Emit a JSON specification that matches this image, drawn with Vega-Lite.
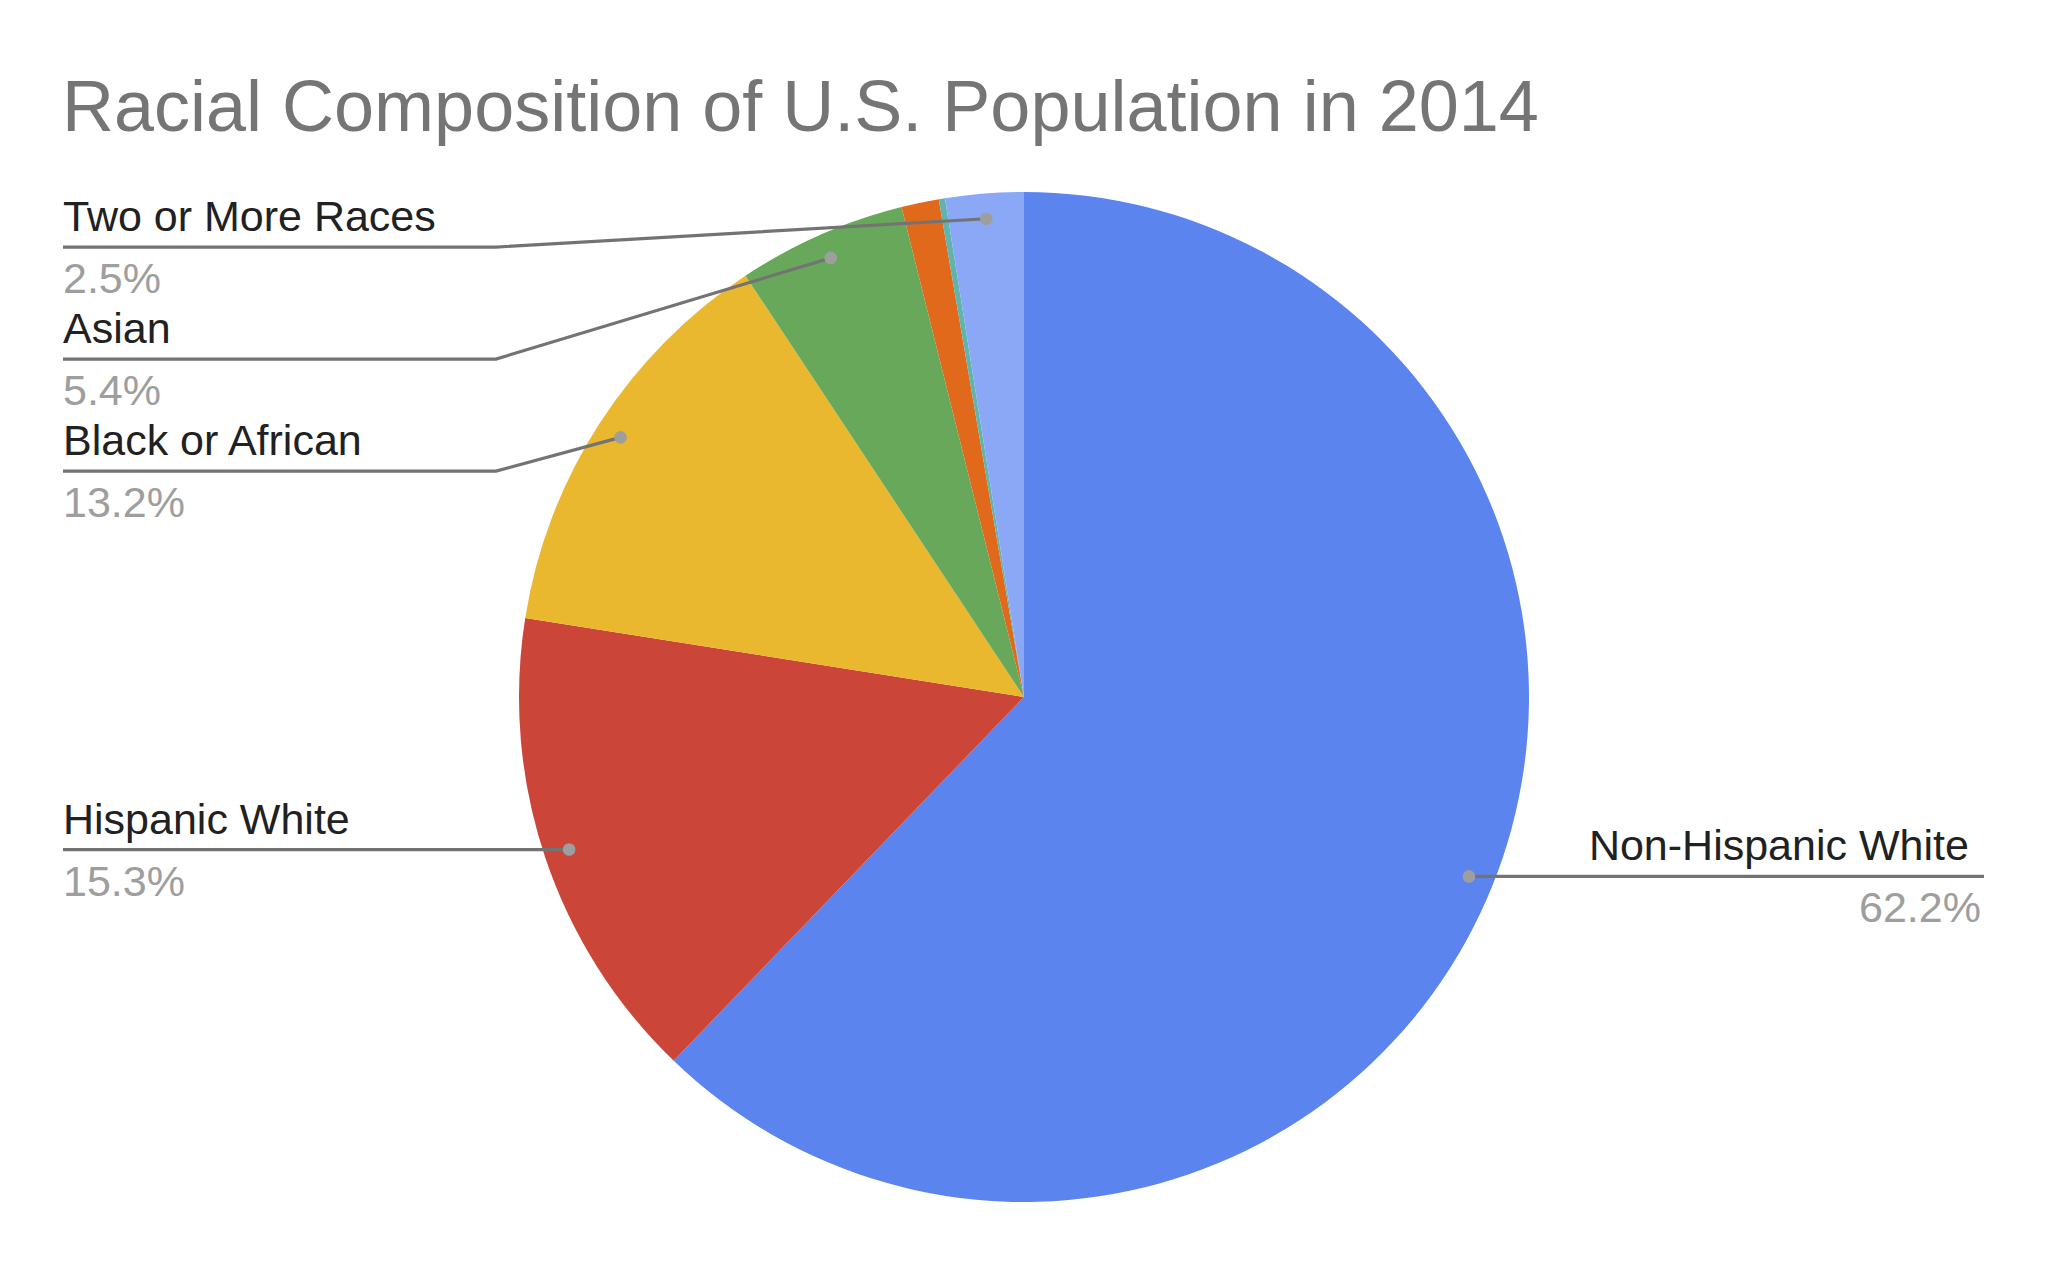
{
  "$schema": "https://vega.github.io/schema/vega-lite/v6.json",
  "autosize": {"type": "none"},
  "width": 1900,
  "height": 1100,
  "padding": {"left": 74, "right": 74, "top": 147, "bottom": 19},
  "background": "white",
  "config": {"view": {"stroke": null}, "font": "Liberation Sans"},
  "title": {
    "text": "Racial Composition of U.S. Population in 2014",
    "anchor": "start",
    "frame": "group",
    "fontSize": 72,
    "fontWeight": "normal",
    "color": "#757575",
    "font": "Liberation Sans",
    "baseline": "alphabetic",
    "offset": 15,
    "dx": -12,
    "dy": 71
  },
  "data": {
    "values": [
      {"group": "Non-Hispanic White", "value": 62.2, "order": 1},
      {"group": "Hispanic White", "value": 15.3, "order": 2},
      {"group": "Black or African", "value": 13.2, "order": 3},
      {"group": "Asian", "value": 5.4, "order": 4},
      {"group": "American Indian and Alaska Native", "value": 1.2, "order": 5},
      {"group": "Native Hawaiian and Other Pacific Islander", "value": 0.2, "order": 6},
      {"group": "Two or More Races", "value": 2.5, "order": 7}
    ]
  },
  "transform": [
    {"window": [{"op": "sum", "field": "value", "as": "cum"}], "sort": [{"field": "order"}], "frame": [null, 0]},
    {"joinaggregate": [{"op": "sum", "field": "value", "as": "total"}]},
    {"calculate": "2*PI*(datum.cum - datum.value/2)/datum.total", "as": "mid"},
    {"calculate": "0.95*sin(datum.mid)", "as": "dx"},
    {"calculate": "0.95*cos(datum.mid)", "as": "dy"},
    {"calculate": "datum.dx < 0 ? 'left' : 'right'", "as": "side"},
    {"calculate": "format(datum.value, '.1f') + '%'", "as": "pct"}
  ],
  "layer": [
    {
      "mark": {"type": "arc", "outerRadius": 505},
      "encoding": {
        "theta": {"field": "value", "type": "quantitative", "stack": true},
        "order": {"field": "order", "type": "quantitative"},
        "color": {
          "field": "group",
          "type": "nominal",
          "legend": null,
          "scale": {
            "domain": ["Non-Hispanic White", "Hispanic White", "Black or African", "Asian", "American Indian and Alaska Native", "Native Hawaiian and Other Pacific Islander", "Two or More Races"],
            "range": ["#5b84ef", "#cb4639", "#e9b82f", "#67a85a", "#e0691c", "#5fb5ae", "#8aa8f5"]
          }
        }
      }
    },
    {
      "transform": [
        {"filter": "datum.value >= 2"},
        {"window": [{"op": "row_number", "as": "rank"}], "groupby": ["side"], "sort": [{"field": "dy", "order": "descending"}]},
        {"calculate": "min(datum.dy, 0.891) + (datum.rank-1)*0.2218", "as": "e"},
        {"window": [{"op": "min", "field": "e", "as": "emin"}], "groupby": ["side"], "sort": [{"field": "dy", "order": "descending"}], "frame": [null, 0]},
        {"calculate": "datum.emin - (datum.rank-1)*0.2218", "as": "ly"}
      ],
      "layer": [
        {
          "transform": [
            {"calculate": "datum.side == 'left' ? -1.0455 : 1.0455", "as": "ex"},
            {"calculate": "datum.side == 'left' ? -1.903 : 1.901", "as": "endx"},
            {"fold": ["dx", "ex", "endx"], "as": ["pt", "px"]},
            {"calculate": "datum.pt == 'dx' ? datum.dy : datum.ly", "as": "py"},
            {"calculate": "indexof(['dx','ex','endx'], datum.pt)", "as": "step"}
          ],
          "mark": {"type": "line", "color": "#737373", "strokeWidth": 3.2},
          "encoding": {
            "x": {"field": "px", "type": "quantitative", "scale": {"domain": [-1.8812, 1.8812], "nice": false, "zero": false}, "axis": null},
            "y": {"field": "py", "type": "quantitative", "scale": {"domain": [-1.0891, 1.0891], "nice": false, "zero": false}, "axis": null},
            "detail": {"field": "group", "type": "nominal"},
            "order": {"field": "step", "type": "quantitative"}
          }
        },
        {
          "mark": {"type": "point", "filled": true, "color": "#9e9e9e", "opacity": 1, "size": 160},
          "encoding": {
            "x": {"field": "dx", "type": "quantitative", "scale": {"domain": [-1.8812, 1.8812], "nice": false, "zero": false}, "axis": null},
            "y": {"field": "dy", "type": "quantitative", "scale": {"domain": [-1.0891, 1.0891], "nice": false, "zero": false}, "axis": null}
          }
        },
        {
          "transform": [{"filter": "datum.side == 'left'"}],
          "mark": {"type": "text", "align": "left", "baseline": "alphabetic", "dy": -16, "fontSize": 43, "color": "#212121"},
          "encoding": {
            "x": {"datum": -1.903, "type": "quantitative", "scale": {"domain": [-1.8812, 1.8812], "nice": false, "zero": false}, "axis": null},
            "y": {"field": "ly", "type": "quantitative", "scale": {"domain": [-1.0891, 1.0891], "nice": false, "zero": false}, "axis": null},
            "text": {"field": "group"}
          }
        },
        {
          "transform": [{"filter": "datum.side == 'left'"}],
          "mark": {"type": "text", "align": "left", "baseline": "alphabetic", "dy": 46, "fontSize": 43, "color": "#9e9e9e"},
          "encoding": {
            "x": {"datum": -1.903, "type": "quantitative", "scale": {"domain": [-1.8812, 1.8812], "nice": false, "zero": false}, "axis": null},
            "y": {"field": "ly", "type": "quantitative", "scale": {"domain": [-1.0891, 1.0891], "nice": false, "zero": false}, "axis": null},
            "text": {"field": "pct"}
          }
        },
        {
          "transform": [{"filter": "datum.side == 'right'"}],
          "mark": {"type": "text", "align": "right", "baseline": "alphabetic", "dy": -16, "fontSize": 43, "color": "#212121"},
          "encoding": {
            "x": {"datum": 1.871, "type": "quantitative", "scale": {"domain": [-1.8812, 1.8812], "nice": false, "zero": false}, "axis": null},
            "y": {"field": "ly", "type": "quantitative", "scale": {"domain": [-1.0891, 1.0891], "nice": false, "zero": false}, "axis": null},
            "text": {"field": "group"}
          }
        },
        {
          "transform": [{"filter": "datum.side == 'right'"}],
          "mark": {"type": "text", "align": "right", "baseline": "alphabetic", "dy": 46, "fontSize": 43, "color": "#9e9e9e"},
          "encoding": {
            "x": {"datum": 1.895, "type": "quantitative", "scale": {"domain": [-1.8812, 1.8812], "nice": false, "zero": false}, "axis": null},
            "y": {"field": "ly", "type": "quantitative", "scale": {"domain": [-1.0891, 1.0891], "nice": false, "zero": false}, "axis": null},
            "text": {"field": "pct"}
          }
        }
      ]
    }
  ]
}
